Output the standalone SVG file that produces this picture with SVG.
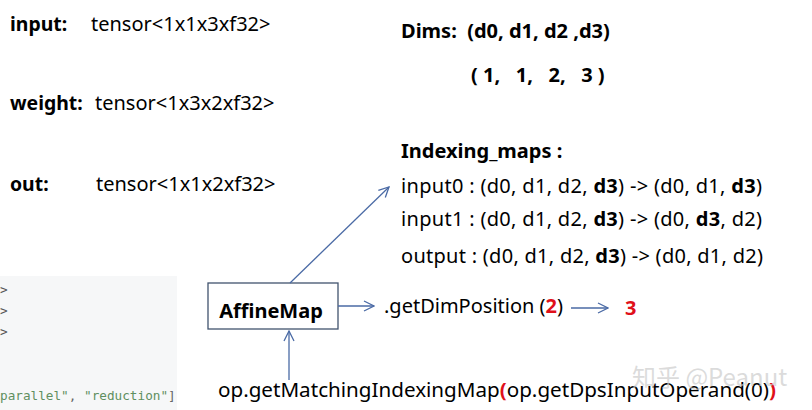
<svg xmlns="http://www.w3.org/2000/svg" width="812" height="410" viewBox="0 0 812 410">
<defs>
<style>
.t{font-family:"Noto Sans","Open Sans",sans-serif;font-size:20px;fill:#000}
.b{font-weight:bold}
.r{fill:#e0101a;font-weight:bold}
.m{font-family:"DejaVu Sans Mono",monospace;font-size:12.7px}
.c{stroke:#4a6aa5;stroke-width:1.3;fill:none}
</style>
<marker id="ah" viewBox="0 0 12 12" refX="11" refY="6" markerWidth="12" markerHeight="12" markerUnits="userSpaceOnUse" orient="auto">
<path d="M1,1 L11,6 L1,11" fill="none" stroke="#4a6aa5" stroke-width="1.3"/>
</marker>
</defs>
<rect width="812" height="410" fill="#fff"/>
<g id="code-panel">
<rect x="0" y="276" width="177" height="134" fill="#f6f7f8"/>
<text class="m" x="0" y="294" fill="#555">&gt;</text>
<text class="m" x="0" y="315" fill="#555">&gt;</text>
<text class="m" x="0" y="336" fill="#555">&gt;</text>
<text class="m" x="0" y="400" fill="#5f8f5f">parallel"<tspan fill="#666">, </tspan>"reduction"<tspan fill="#666">]</tspan></text>
</g>
<g id="tensors">
<text class="t" x="10" y="31"><tspan class="b" font-size="19.4">input:</tspan><tspan x="91">tensor&lt;1x1x3xf32&gt;</tspan></text>
<text class="t" x="10" y="110"><tspan class="b" font-size="19.4">weight:</tspan><tspan x="95">tensor&lt;1x3x2xf32&gt;</tspan></text>
<text class="t" x="10" y="191"><tspan class="b" font-size="19.4">out:</tspan><tspan x="96">tensor&lt;1x1x2xf32&gt;</tspan></text>
</g>
<g id="dims">
<text class="t b" x="401" y="38" font-size="20.5" xml:space="preserve">Dims:  (d0, d1, d2 ,d3)</text>
<text class="t b" x="471" y="82" font-size="20.5" xml:space="preserve">( 1,   1,   2,   3 )</text>
</g>
<g id="indexing-maps">
<text class="t b" x="401" y="158" font-size="19.8">Indexing_maps :</text>
<text class="t" x="401" y="193" font-size="21" textLength="361" lengthAdjust="spacing">input0 : (d0, d1, d2, <tspan class="b">d3</tspan>) -&gt; (d0, d1, <tspan class="b">d3</tspan>)</text>
<text class="t" x="401" y="226" font-size="21" textLength="361" lengthAdjust="spacing">input1 : (d0, d1, d2, <tspan class="b">d3</tspan>) -&gt; (d0, <tspan class="b">d3</tspan>, d2)</text>
<text class="t" x="401" y="263" font-size="21" textLength="362" lengthAdjust="spacing">output : (d0, d1, d2, <tspan class="b">d3</tspan>) -&gt; (d0, d1, d2)</text>
</g>
<g id="affinemap">
<rect x="208" y="283" width="130" height="46" fill="#fff" stroke="#41536e" stroke-width="1.3"/>
<text class="t b" x="271" y="318" text-anchor="middle" font-size="22.4">AffineMap</text>
</g>
<g id="getdimposition">
<text class="t" x="384" y="313" font-size="21.4">.getDimPosition (<tspan class="r">2</tspan>)</text>
</g>
<g id="result">
<text class="t r" x="625" y="315" font-size="21">3</text>
</g>
<g id="matching">
<text class="t" x="218" y="397" font-size="22.5" textLength="558" lengthAdjust="spacingAndGlyphs">op.getMatchingIndexingMap<tspan class="r">(</tspan>op.getDpsInputOperand(0)<tspan class="r">)</tspan></text>
</g>
<g id="connectors">
<line class="c" x1="290" y1="283" x2="389" y2="187" marker-end="url(#ah)"/>
<line class="c" x1="338" y1="306" x2="374" y2="306" marker-end="url(#ah)"/>
<line class="c" x1="571" y1="308" x2="608" y2="308" marker-end="url(#ah)"/>
<line class="c" x1="289" y1="380" x2="289" y2="331" marker-end="url(#ah)"/>
</g>
<text x="632" y="386" font-family="Noto Sans CJK SC,sans-serif" font-size="24" fill="#ccc" fill-opacity="0.7">知乎 @Peanut</text>
</svg>
